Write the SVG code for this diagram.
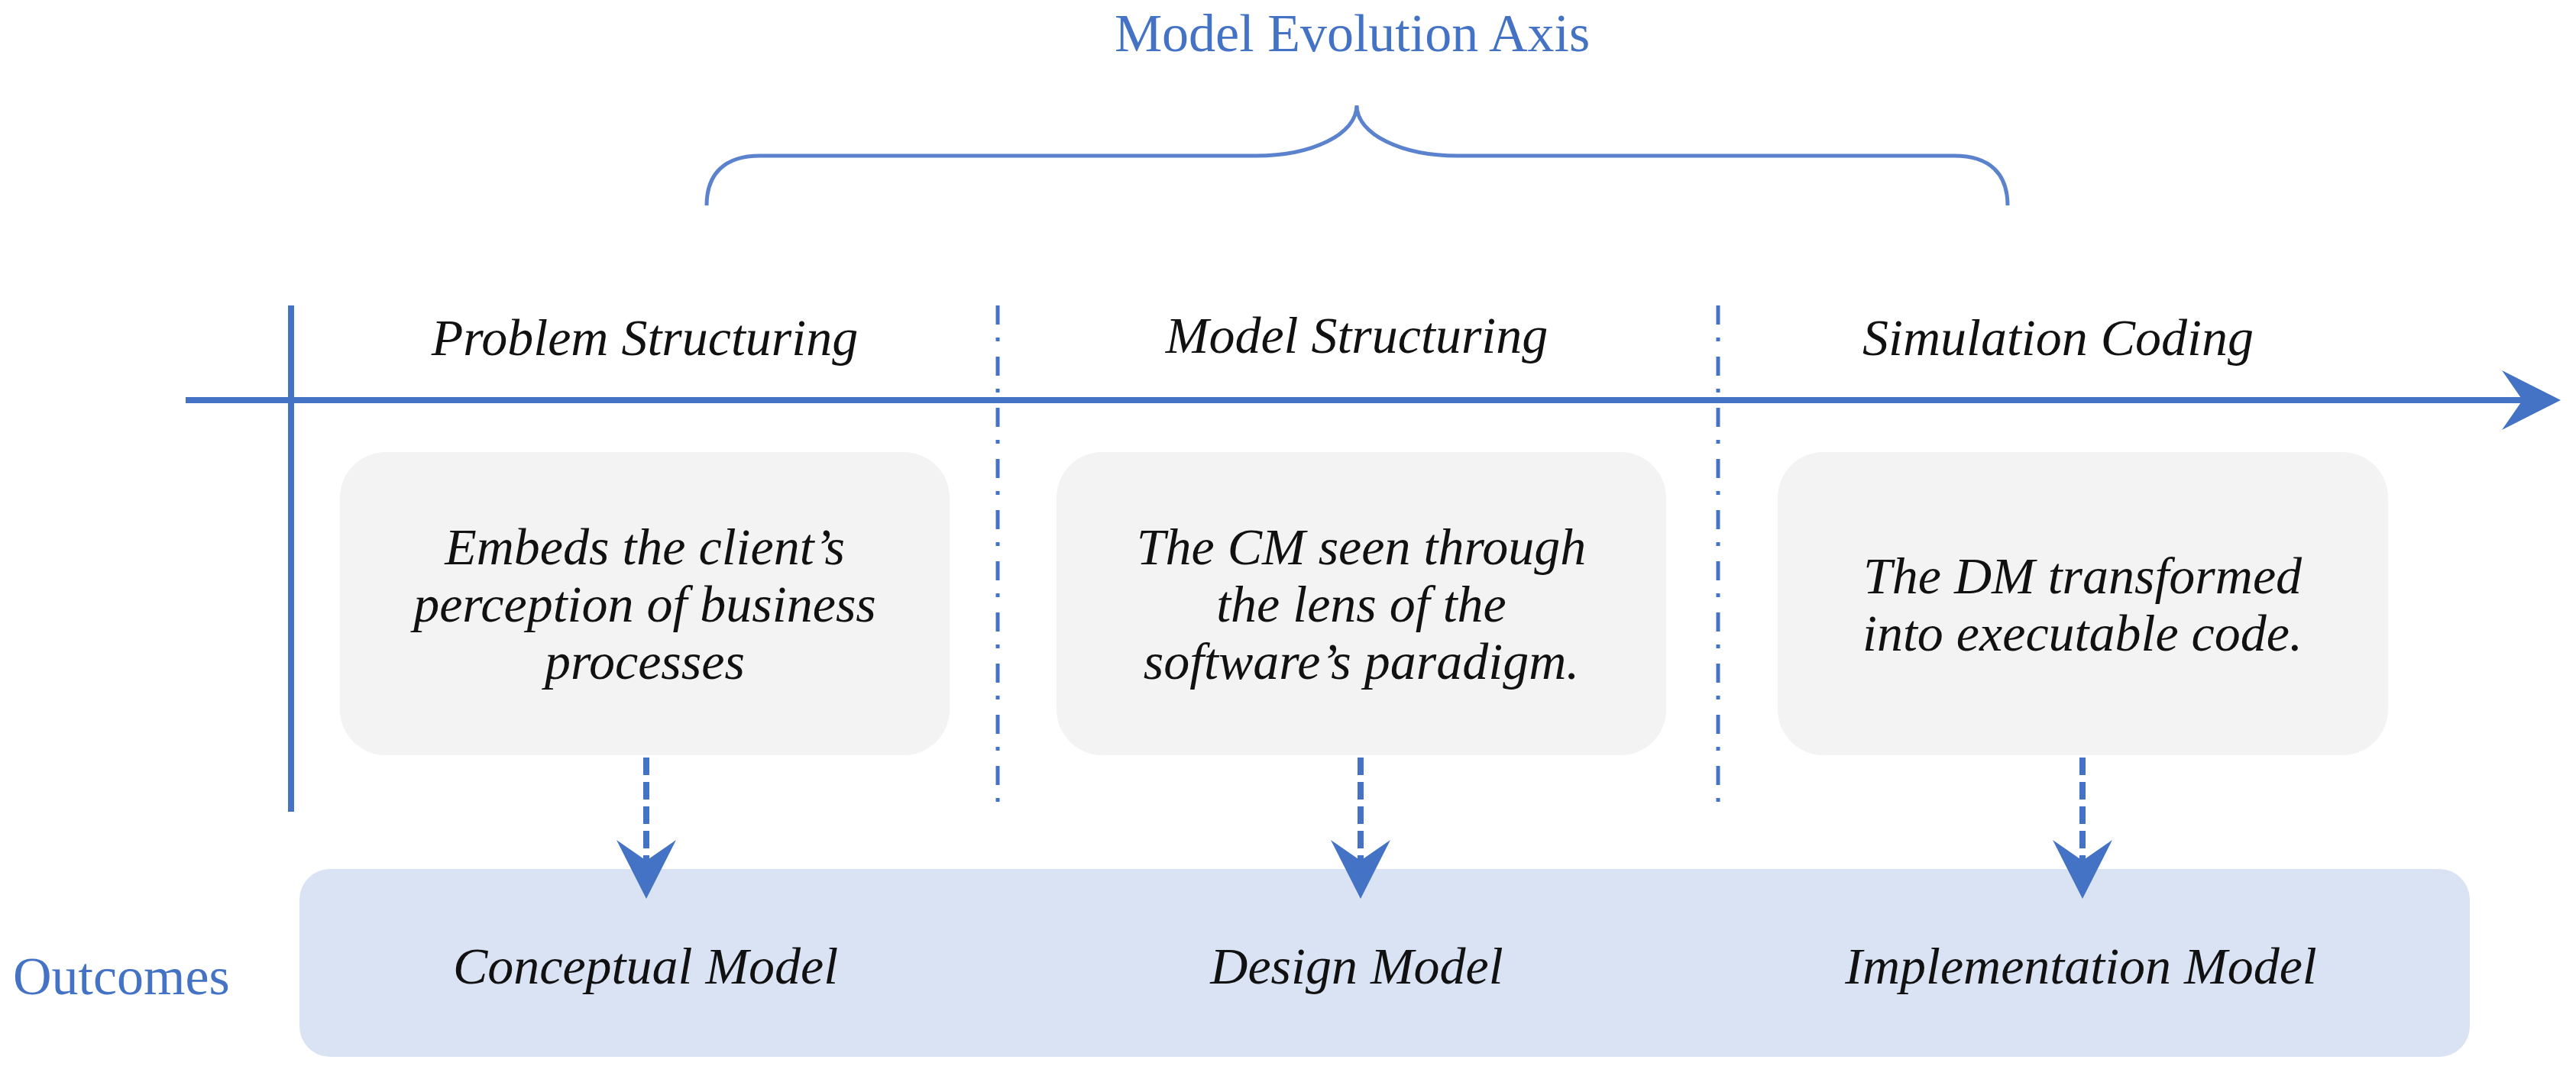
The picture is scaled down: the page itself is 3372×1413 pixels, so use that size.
<svg xmlns="http://www.w3.org/2000/svg" width="3372" height="1413" viewBox="0 0 3372 1413">
<style>
.blue{fill:#4472C4;font-family:"Liberation Serif","Times New Roman",serif;font-size:70px}
.it{fill:#111;font-family:"Liberation Serif","Times New Roman",serif;font-style:italic;font-size:68px;text-anchor:middle}
.card{fill:#F3F3F3}
.out{fill:#DAE3F3}
.axis{stroke:#4472C4;stroke-width:8;fill:none}
.sep{stroke:#4472C4;stroke-width:5;fill:none;stroke-dasharray:25 17 5 20}
.flow{stroke:#4472C4;stroke-width:8;fill:none;stroke-dasharray:23 9}
.brace{stroke:#5B82CC;stroke-width:5;fill:none}
</style>
<defs>
<marker id="ah" markerUnits="userSpaceOnUse" markerWidth="120" markerHeight="100" viewBox="-90 -50 100 100" refX="-50" refY="0" orient="auto" overflow="visible">
<path d="M0,0 L-77,-39 L-50,0 L-77,39 Z" fill="#4472C4"/>
</marker>
</defs>
<rect width="3372" height="1413" fill="#FFFFFF"/>
<g id="title">
<text class="blue" x="1770" y="67" text-anchor="middle">Model Evolution Axis</text>
<path class="brace" d="M925,269 C925,228 948,204 995,204 L1644,204 C1717,204 1776,176 1776,138 C1776,176 1835,204 1908,204 L2558,204 C2605,204 2628,228 2628,269"/>
</g>
<g id="axes">
<line class="axis" x1="381" y1="400" x2="381" y2="1063"/>
<line class="sep" x1="1306" y1="400" x2="1306" y2="1063"/>
<line class="sep" x1="2249" y1="400" x2="2249" y2="1063"/>
</g>
<g id="phase-problem"><text class="it" x="844" y="465">Problem Structuring</text></g>
<g id="phase-model"><text class="it" x="1776" y="462">Model Structuring</text></g>
<g id="phase-simulation"><text class="it" x="2694" y="465">Simulation Coding</text></g>
<g id="card-cm">
<rect class="card" x="445" y="592" width="798" height="397" rx="60"/>
<text class="it" x="844" y="739">Embeds the client’s</text>
<text class="it" x="844" y="814">perception of business</text>
<text class="it" x="844" y="889">processes</text>
</g>
<g id="card-dm">
<rect class="card" x="1383" y="592" width="798" height="397" rx="60"/>
<text class="it" x="1782" y="739">The CM seen through</text>
<text class="it" x="1782" y="814">the lens of the</text>
<text class="it" x="1782" y="889">software’s paradigm.</text>
</g>
<g id="card-im">
<rect class="card" x="2327" y="592" width="799" height="397" rx="60"/>
<text class="it" x="2726" y="777">The DM transformed</text>
<text class="it" x="2726" y="852">into executable code.</text>
</g>
<g id="outcomes">
<text class="blue" x="17" y="1302">Outcomes</text>
<rect class="out" x="392" y="1138" width="2841" height="246" rx="40"/>
<text class="it" x="845" y="1288">Conceptual Model</text>
<text class="it" x="1776" y="1288">Design Model</text>
<text class="it" x="2724" y="1288">Implementation Model</text>
</g>
<g id="connectors">
<line class="axis" x1="243" y1="524" x2="3302" y2="524" marker-end="url(#ah)"/>
<line class="flow" x1="846" y1="992" x2="846" y2="1127" marker-end="url(#ah)"/>
<line class="flow" x1="1781" y1="992" x2="1781" y2="1127" marker-end="url(#ah)"/>
<line class="flow" x1="2726" y1="992" x2="2726" y2="1127" marker-end="url(#ah)"/>
</g>
</svg>
